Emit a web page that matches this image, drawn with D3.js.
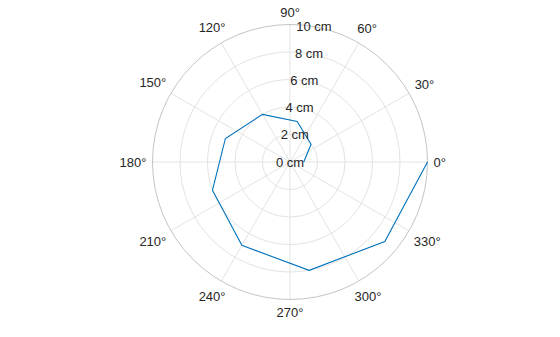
<!DOCTYPE html>
<html><head><meta charset="utf-8">
<script src="https://cdn.jsdelivr.net/npm/d3@7"></script>
<style>body{margin:0;background:#fff}svg{display:block}text{font-family:Arial,"Liberation Sans",sans-serif;font-size:13px;fill:#262626}</style>
</head><body>
<svg id="c" width="560" height="337"></svg>
<script>
const thetaDeg = [0, 40, 80, 120, 160, 200, 240, 280, 320, 360];
const rho = [1, 2, 3, 4, 5, 6, 7, 8, 9, 10];
const rTicks = [0, 2, 4, 6, 8, 10];
const rTickLabels = ["0 cm", "2 cm", "4 cm", "6 cm", "8 cm", "10 cm"];
const thetaTicks = [0, 30, 60, 90, 120, 150, 180, 210, 240, 270, 300, 330];
const thetaTickLabels = thetaTicks.map(d => d + "°");

const svg = d3.select("#c");
const cx = 290, cy = 162, R = 137.5;
const r = d3.scaleLinear().domain([0, 10]).range([0, R]);
const a = d3.scaleLinear().domain([0, 360]).range([0, 2 * Math.PI]);
const g = svg.append("g").attr("transform", `translate(${cx},${cy})`);
const px = (t, v) => r(v) * Math.cos(a(t));
const py = (t, v) => -r(v) * Math.sin(a(t));

// angular spokes
g.selectAll("line.spoke").data(thetaTicks).join("line")
  .attr("x1", 0).attr("y1", 0)
  .attr("x2", d => px(d, 10)).attr("y2", d => py(d, 10))
  .attr("stroke", "#e3e3e3").attr("stroke-width", 1);
// circles
g.selectAll("circle.grid").data(rTicks.filter(d => d > 0 && d < 10)).join("circle")
  .attr("r", d => r(d)).attr("fill", "none").attr("stroke", "#e3e3e3").attr("stroke-width", 1);
g.append("circle").attr("r", r(10)).attr("fill", "none").attr("stroke", "#c4c4c4").attr("stroke-width", 1);

// data line
const line = d3.line().x(d => px(d[0], d[1])).y(d => py(d[0], d[1]));
g.append("path").datum(thetaDeg.map((t, i) => [t, rho[i]]))
  .attr("d", line).attr("fill", "none").attr("stroke", "#0072BD").attr("stroke-width", 1.1);

// theta labels
const tl = g.selectAll("text.th").data(thetaTicks).join("text")
  .attr("text-anchor", "middle").attr("dominant-baseline", "central")
  .text((d, i) => thetaTickLabels[i]);
tl.each(function(d) {
  const w = this.getComputedTextLength(), h = 13;
  const c = Math.cos(a(d)), s = Math.sin(a(d));
  const dist = R + 6 + (w / 2) * Math.abs(c) + (h / 2) * Math.abs(s);
  d3.select(this).attr("x", dist * c).attr("y", -dist * s);
});

// r labels at 80 degrees
g.selectAll("text.rl").data(rTicks).join("text")
  .attr("text-anchor", "middle").attr("dominant-baseline", "central")
  .attr("x", d => px(80, d)).attr("y", d => py(80, d))
  .text((d, i) => rTickLabels[i]);
</script>
</body></html>
